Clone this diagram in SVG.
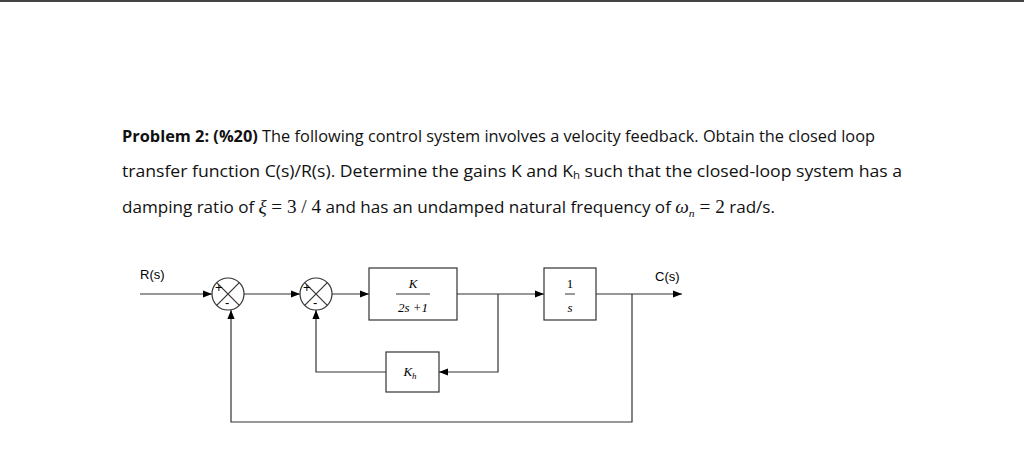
<svg xmlns="http://www.w3.org/2000/svg" width="1024" height="462" viewBox="0 0 1024 462">
<defs>
<marker id="a" viewBox="0 0 10 10" refX="10" refY="5" markerWidth="9" markerHeight="9" markerUnits="userSpaceOnUse" orient="auto"><path d="M0,1 L10,5 L0,9 z" fill="#000"/></marker>
<style>
.t{font-family:"Open Sans","Liberation Sans",sans-serif;font-size:16px;fill:#111}
.l{fill:none;stroke:#333;stroke-width:1.2}
.b{fill:#fff;stroke:#333;stroke-width:1.2}
.m{font-family:"Liberation Serif",serif;font-style:italic;font-size:13px;fill:#000}
.s{font-family:"Liberation Sans",Arial,sans-serif;font-size:13px;fill:#000}
</style>
</defs>
<rect width="1024" height="462" fill="#fff"/>
<line x1="0" y1="1" x2="1024" y2="1" stroke="#444" stroke-width="2"/>
<g id="text">
<text class="t" x="122" y="142" textLength="753" lengthAdjust="spacingAndGlyphs"><tspan font-weight="bold">Problem 2: (%20)</tspan> The following control system involves a velocity feedback. Obtain the closed loop</text>
<text class="t" x="122" y="177" textLength="780" lengthAdjust="spacingAndGlyphs">transfer function C(s)/R(s). Determine the gains K and Kₕ such that the closed-loop system has a</text>
<text class="t" x="122" y="213" textLength="653" lengthAdjust="spacingAndGlyphs">damping ratio of <tspan font-family="Liberation Serif" font-style="italic" font-size="18">ξ</tspan> <tspan font-family="Liberation Serif" font-size="18">= 3 / 4</tspan> and has an undamped natural frequency of <tspan font-family="Liberation Serif" font-style="italic" font-size="18">ω</tspan><tspan font-family="Liberation Serif" font-style="italic" font-size="11" dy="4">n</tspan><tspan dy="-4" font-family="Liberation Serif" font-size="18"> = 2</tspan> rad/s.</text>
</g>
<text class="s" x="140" y="279">R(s)</text>
<text class="s" x="655" y="281">C(s)</text>
<g id="connectors">
<line class="l" x1="140" y1="294" x2="212" y2="294" marker-end="url(#a)"/>
<line class="l" x1="244" y1="294" x2="300" y2="294" marker-end="url(#a)"/>
<line class="l" x1="332" y1="294" x2="369" y2="294" marker-end="url(#a)"/>
<line class="l" x1="457" y1="294" x2="544" y2="294" marker-end="url(#a)"/>
<line class="l" x1="596" y1="294" x2="682" y2="294" marker-end="url(#a)"/>
<polyline class="l" points="498,294 498,372 439,372" marker-end="url(#a)"/>
<polyline class="l" points="386,372 316,372 316,310" marker-end="url(#a)"/>
<polyline class="l" points="632,294 632,422 231,422 231,310" marker-end="url(#a)"/>
</g>
<g id="sum1">
<circle class="b" cx="228" cy="294" r="16"/>
<path class="l" d="M216.7,282.7 L239.3,305.3 M239.3,282.7 L216.7,305.3"/>
<text class="s" x="215" y="292" font-size="11">+</text>
<text class="s" x="225" y="307" font-size="11">-</text>
</g>
<g id="sum2">
<circle class="b" cx="316" cy="294" r="16"/>
<path class="l" d="M304.7,282.7 L327.3,305.3 M327.3,282.7 L304.7,305.3"/>
<text class="s" x="303" y="292" font-size="11">+</text>
<text class="s" x="313" y="307" font-size="11">-</text>
</g>
<g id="G1">
<rect class="b" x="369" y="268" width="88" height="52"/>
<text class="m" x="413" y="288" text-anchor="middle">K</text>
<line x1="396" y1="294" x2="430" y2="294" stroke="#000" stroke-width="0.8"/>
<text class="m" x="413" y="312" text-anchor="middle">2s +1</text>
</g>
<g id="G2">
<rect class="b" x="544" y="268" width="52" height="52"/>
<text class="m" x="570" y="288" text-anchor="middle" style="font-style:normal">1</text>
<line x1="565" y1="294" x2="575" y2="294" stroke="#000" stroke-width="0.8"/>
<text class="m" x="570" y="312" text-anchor="middle">s</text>
</g>
<g id="H">
<rect class="b" x="386" y="352" width="53" height="40"/>
<text class="m" x="410" y="376" text-anchor="middle">K<tspan font-size="9" dy="3">h</tspan></text>
</g>
</svg>
